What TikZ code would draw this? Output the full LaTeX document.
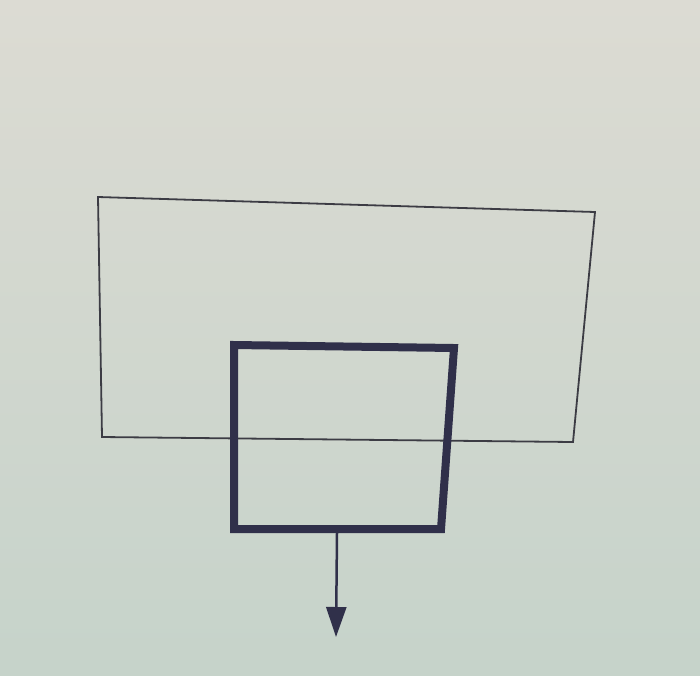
\documentclass[tikz,border=0pt]{standalone}
\usepackage{tikz}
\usetikzlibrary{arrows.meta}
\usetikzlibrary{shapes,arrows,positioning}
\tikzset{>=latex}
\definecolor{screentop}{HTML}{DCDBD3}
\definecolor{screenbot}{HTML}{C6D3CA}
\definecolor{thinline}{HTML}{3C3C44}
\definecolor{thickline}{HTML}{30304A}

\begin{document}
\begin{tikzpicture}[x=1pt,y=-1pt]
        % screen background
        \shade[top color=screentop, bottom color=screenbot]
            (0,0) rectangle (700,675);
        \useasboundingbox (0,0) rectangle (700,675);

        % large frame
        \coordinate (bigtl) at (98,197);
        \coordinate (bigtr) at (595,212);
        \coordinate (bigbr) at (573,442);
        \coordinate (bigbl) at (102,437);
        \draw[
            line width=1.8pt,
            color=thinline,
        ] (bigtl) -- (bigtr) -- (bigbr) -- (bigbl) -- cycle;

        % small block
        \coordinate (boxtl) at (234,345);
        \coordinate (boxtr) at (454,348);
        \coordinate (boxbr) at (441,529);
        \coordinate (boxbl) at (234,529);
        \draw[
            line width=8pt,
            color=thickline,
            line join=miter,
        ] (boxtl) -- (boxtr) -- (boxbr) -- (boxbl) -- cycle;

        % output
        \coordinate (outstart) at (337,533);
        \coordinate (outend) at (336,637);
        \draw[
            line width=2.5pt,
            color=thickline,
            -{Triangle[length=30pt,width=20pt]},
        ] (outstart) -- (outend);
    \end{tikzpicture}
\end{document}
